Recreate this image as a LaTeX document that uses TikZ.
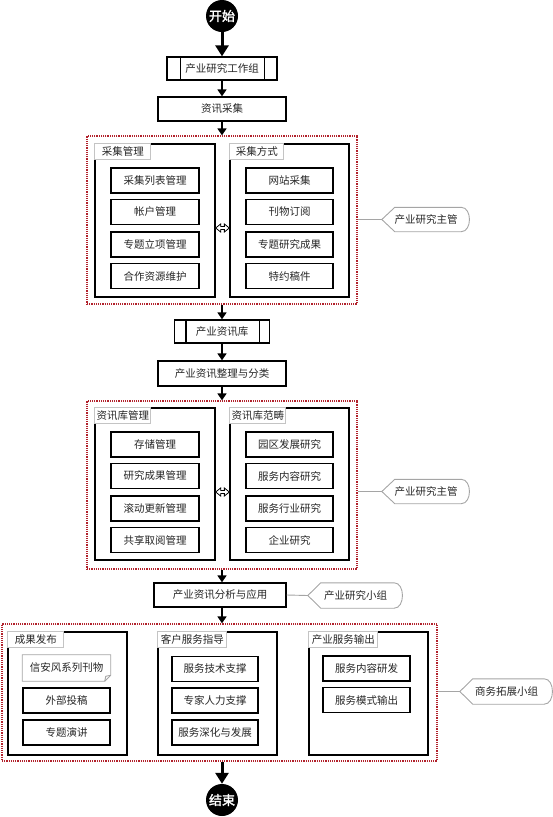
\documentclass[tikz,border=0pt]{standalone}
\usepackage{fontspec}
\newfontfamily\cjk{Noto Sans CJK SC}[AutoFakeBold=2]
\usetikzlibrary{arrows.meta}

\definecolor{framered}{RGB}{178,34,44}
\definecolor{captiongray}{RGB}{196,196,196}
\definecolor{taggray}{RGB}{165,165,165}

\tikzset{
  every node/.style={font=\cjk\fontsize{10.5}{12}\selectfont,text=black!85},
  flow/.style={line width=1.6pt,-{Triangle[length=7pt,width=9pt]}},
  bigflow/.style={line width=3pt,-{Triangle[length=11pt,width=13pt]}},
  terminal/.style={circle,fill=black,minimum size=32pt,inner sep=0pt,text=white,font=\cjk\bfseries\fontsize{13}{14}\selectfont},
  process/.style={draw,line width=1.3pt,fill=white,inner sep=0pt,minimum height=24pt},
  area/.style={draw=framered,line width=1.3pt,dash pattern=on 1.2pt off 1pt,inner sep=0pt},
  panel/.style={draw,line width=1.3pt,inner sep=0pt,minimum width=119pt},
  caption/.style={draw=captiongray,line width=0.9pt,fill=white,inner sep=0pt,minimum height=16pt,anchor=north west},
  item/.style={draw,line width=1.5pt,inner sep=0pt,minimum width=87pt,minimum height=25pt},
  tag/.style={inner sep=0pt,minimum height=24pt},
  tagline/.style={draw=taggray,line width=0.9pt},
  syncline/.style={draw,fill=white,line width=0.8pt,line join=miter}
}

% pointed left end, rounded right end
\newcommand{\tagshape}[1]{%
  \draw[tagline] (#1.west) -- ([xshift=13pt]#1.north west) -- ([xshift=-9pt]#1.north east)
    .. controls ([xshift=2pt]#1.north east) and ([xshift=2pt]#1.south east) .. ([xshift=-9pt]#1.south east)
    -- ([xshift=13pt]#1.south west) -- cycle;}

\begin{document}
\begin{tikzpicture}[x=1pt,y=-1pt]
  \useasboundingbox (0,0) rectangle (553,817);

  % main column
  \node[terminal] (start) at (222,16) {开始};
  \node[process,minimum width=110pt,minimum height=23pt] (team) at (222,68.5) {产业研究工作组};
  \draw[line width=1.3pt] ([xshift=14pt]team.north west) -- ([xshift=14pt]team.south west)
                          ([xshift=-13pt]team.north east) -- ([xshift=-13pt]team.south east);
  \node[process,minimum width=128pt] (collect) at (222,109) {资讯采集};

  % first block: collecting
  \node[area,minimum width=270pt,minimum height=168pt] (area1) at (222,220) {};
  \node[panel,minimum width=120pt,minimum height=153pt] (gather) at (155,220.5) {};
  \node[panel,minimum height=153pt] (mode) at (289.5,220.5) {};
  \node[caption,minimum width=56pt] (gatherT) at (gather.north west) {采集管理};
  \node[caption,minimum width=54pt] (modeT) at (mode.north west) {采集方式};
  \foreach \y/\t [count=\i] in {180.5/采集列表管理,212/帐户管理,244.5/专题立项管理,276/合作资源维护}
    \node[item,minimum width=88pt] (g\i) at (155,\y) {\t};
  \foreach \y/\t [count=\i] in {180.5/网站采集,212/刊物订阅,244.5/专题研究成果,276/特约稿件}
    \node[item] (m\i) at (289.5,\y) {\t};
  \coordinate (sa1) at ([yshift=-7.5pt]gather.east);
  \coordinate (sb1) at ([yshift=-7.5pt]mode.west);
  \draw[syncline] (sa1) -- ++(5,-4) -- ++(0,2.5) -- ([xshift=-5pt,yshift=1.5pt]sb1) -- ++(0,-2.5)
    -- (sb1) -- ++(-5,4) -- ++(0,-2.5) -- ([xshift=5pt,yshift=-1.5pt]sa1) -- ++(0,2.5) -- cycle;
  \node[tag,minimum width=88pt] (boss1) at (426,219.5) {产业研究主管};
  \tagshape{boss1}
  \draw[tagline] (boss1.west) -- (boss1.west -| area1.east);

  \node[process,minimum width=95pt,minimum height=23pt] (store) at (222,331.5) {产业资讯库};
  \draw[line width=1.3pt] ([xshift=12pt]store.north west) -- ([xshift=12pt]store.south west)
                          ([xshift=-11pt]store.north east) -- ([xshift=-11pt]store.south east);
  \node[process,minimum width=128pt,minimum height=25pt] (sort) at (222,373.5) {产业资讯整理与分类};

  % second block: library
  \node[area,minimum width=270pt,minimum height=168pt] (area2) at (222,485) {};
  \node[panel,minimum width=120pt,minimum height=152pt] (libman) at (155,484) {};
  \node[panel,minimum height=152pt] (scope) at (289.5,484) {};
  \node[caption,minimum width=56pt] (libmanT) at (libman.north west) {资讯库管理};
  \node[caption,minimum width=56pt] (scopeT) at (scope.north west) {资讯库范畴};
  \foreach \y/\t [count=\i] in {444.5/存储管理,476/研究成果管理,508.5/滚动更新管理,540/共享取阅管理}
    \node[item,minimum width=88pt] (l\i) at (155,\y) {\t};
  \foreach \y/\t [count=\i] in {444.5/园区发展研究,476/服务内容研究,508.5/服务行业研究,540/企业研究}
    \node[item] (s\i) at (289.5,\y) {\t};
  \coordinate (sa2) at ([yshift=-8pt]libman.east);
  \coordinate (sb2) at ([yshift=-8pt]scope.west);
  \draw[syncline] (sa2) -- ++(5,-4) -- ++(0,2.5) -- ([xshift=-5pt,yshift=1.5pt]sb2) -- ++(0,-2.5)
    -- (sb2) -- ++(-5,4) -- ++(0,-2.5) -- ([xshift=5pt,yshift=-1.5pt]sa2) -- ++(0,2.5) -- cycle;
  \node[tag,minimum width=88pt] (boss2) at (426,491.5) {产业研究主管};
  \tagshape{boss2}
  \draw[tagline] (boss2.west) -- (boss2.west -| area2.east);

  \node[process,minimum width=132pt] (analyze) at (220,595) {产业资讯分析与应用};
  \node[tag,minimum width=95pt,minimum height=25pt] (boss3) at (355.5,595.5) {产业研究小组};
  \tagshape{boss3}
  \draw[tagline] (analyze.east) -- (boss3.west);

  % third block: output
  \node[area,minimum width=435pt,minimum height=137pt] (area3) at (219.5,692.5) {};
  \node[panel,minimum height=123pt] (publish) at (67.5,693.5) {};
  \node[panel,minimum height=123pt] (guide) at (217.5,693.5) {};
  \node[panel,minimum height=123pt] (output) at (368.5,693.5) {};
  \node[caption,minimum width=56pt] (publishT) at (publish.north west) {成果发布};
  \node[caption,minimum width=69pt] (guideT) at (guide.north west) {客户服务指导};
  \node[caption,minimum width=69pt] (outputT) at (output.north west) {产业服务输出};
  \node[item,draw=none] (journal) at (66.5,668) {信安风系列刊物};
  \draw[tagline] (journal.north west) -- (journal.north east) -- ([yshift=6pt]journal.south east)
    -- ([xshift=-6pt]journal.south east) -- (journal.south west) -- cycle;
  \draw[tagline] ([yshift=6pt]journal.south east) -- ([xshift=-5pt,yshift=5pt]journal.south east)
    -- ([xshift=-6pt]journal.south east);
  \node[item] (p2) at (66.5,700.5) {外部投稿};
  \node[item] (p3) at (66.5,732.5) {专题演讲};
  \foreach \y/\t [count=\i] in {669/服务技术支撑,700.5/专家人力支撑,732.5/服务深化与发展}
    \node[item,minimum width=86pt] (c\i) at (215,\y) {\t};
  \node[item] (o1) at (366.5,668.5) {服务内容研发};
  \node[item] (o2) at (366.5,700) {服务模式输出};
  \node[tag,minimum width=93pt,minimum height=25pt] (boss4) at (506.5,691.5) {商务拓展小组};
  \tagshape{boss4}
  \draw[tagline] (boss4.west) -- (boss4.west -| area3.east);

  \node[terminal] (end) at (222,800) {结束};

  % connectors
  \draw[bigflow] (start) -- (team);
  \draw[flow] (team) -- (collect);
  \draw[flow] (collect) -- (area1);
  \draw[flow] (area1) -- (store);
  \draw[flow] (store) -- (sort);
  \draw[flow] (sort) -- (area2);
  \draw[flow] (area2.south) -- (area2.south |- analyze.north);
  \draw[flow] (analyze.south -| area2.south) -- (area2.south |- area3.north);
  \draw[bigflow] (area3.south -| end) -- (end);
\end{tikzpicture}
\end{document}
